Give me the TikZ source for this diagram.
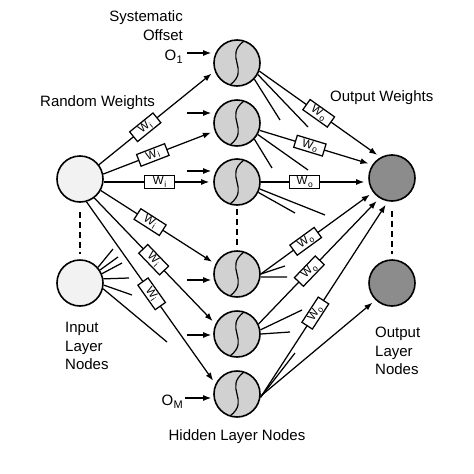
\documentclass[tikz,border=0pt]{standalone}
\usepackage{fontspec}
\setmainfont{Liberation Sans}
\usetikzlibrary{arrows.meta,calc}
\newcommand{\wlab}[1]{W\kern0.6pt\raisebox{-2.2pt}{\fontsize{8.5}{8.5}\selectfont #1}}
\newcommand{\osub}[1]{O\kern0.4pt\raisebox{-3.5pt}{\fontsize{11}{11}\selectfont #1}}
\begin{document}
\begin{tikzpicture}[x=1pt,y=-1pt,
  every node/.style={font=\fontsize{15}{18.5}\selectfont},
  inp/.style={circle,draw,line width=1.6pt,fill=black!5,minimum size=46pt,inner sep=0pt},
  hid/.style={circle,draw,line width=1.6pt,fill=black!18,minimum size=46pt,inner sep=0pt},
  outn/.style={circle,draw,line width=1.6pt,fill=black!45,minimum size=46pt,inner sep=0pt},
  arr/.style={line width=1.25pt,-{Latex[length=8pt,width=6pt]},shorten >=4pt},
  stub/.style={line width=1.25pt},
  dashline/.style={line width=1.2pt,dash pattern=on 6pt off 4pt},
  wbox/.style={draw,fill=white,line width=1.25pt,minimum width=30pt,minimum height=12.5pt,inner sep=0pt,sloped,font=\fontsize{11.5}{11.5}\selectfont},
  lbl/.style={inner sep=0pt}]
\useasboundingbox (0,0) rectangle (474,474);

% nodes
\node[inp] (in1) at (80,179) {};
\node[inp] (in2) at (80,283) {};
\node[hid] (h1) at (237,63) {};
\node[hid] (h2) at (237,123) {};
\node[hid] (h3) at (237,182) {};
\node[hid] (h4) at (237,274) {};
\node[hid] (h5) at (237,334) {};
\node[hid] (h6) at (237,394) {};
\node[outn] (out1) at (392,178) {};
\node[outn] (out2) at (392,283) {};

% sigmoid curves
\foreach \n in {h1,h2,h3,h4,h5,h6}
  \draw[line width=1.2pt] ($(\n)+(7,-22)$) .. controls ($(\n)+(-14,-6)$) and ($(\n)+(14,6)$) .. ($(\n)+(-7,22)$);

% input -> hidden
\draw[arr] (in1.37) -- node[wbox,pos=0.40]{\wlab{i}} (h1.200);
\draw[arr] (in1.12) -- node[wbox,pos=0.445]{\wlab{i}} (h2.200);
\draw[arr] (in1.east |- h3) -- node[wbox,pos=0.51]{\wlab{i}} (h3.west);
\draw[arr] (in1.331) -- node[wbox,pos=0.43]{\wlab{i}} (h4.155);
\draw[arr] (in1.307) -- node[wbox,pos=0.49]{\wlab{i}} (h5.155);
\draw[arr] (in1.286) -- node[wbox,pos=0.505]{\wlab{i}} (h6.155);

% input 2 stubs
\coordinate (a1) at (113,249);
\coordinate (a2) at (118,257);
\coordinate (a3) at (122,263);
\coordinate (a4) at (129,278);
\coordinate (a5) at (132,295);
\coordinate (a6) at (167,342);
\draw[stub] (in2.41) -- (a1);
\draw[stub] (in2.33) -- (a2);
\draw[stub] (in2.23) -- (a3);
\draw[stub] (in2.10) -- (a4);
\draw[stub] (in2.355) -- (a5);
\draw[stub] (in2.346) -- (a6);

% offsets
\coordinate (o1) at (187,53);
\coordinate (o2) at (187,113);
\coordinate (o3) at (187,171);
\coordinate (o4) at (187,280);
\coordinate (o5) at (187,335);
\coordinate (o6) at (185,398);
\draw[arr,shorten >=2pt] (o1) -- (o1 -| h1.west);
\draw[arr,shorten >=2pt] (o2) -- (o2 -| h2.west);
\draw[arr,shorten >=2pt] (o3) -- (o3 -| h3.west);
\draw[arr,shorten >=2pt] (o4) -- (o4 -| h4.west);
\draw[arr,shorten >=2pt] (o5) -- (o5 -| h5.west);
\draw[arr,shorten >=2pt] (o6) -- (o6 -| h6.west);

% hidden -> output
\draw[arr] (h1.340) -- node[wbox,pos=0.49]{\wlab{o}} (out1.119);
\draw[arr] (h2.342) -- node[wbox,pos=0.446]{\wlab{o}} (out1.146);
\draw[arr] (h3.east) -- node[wbox,pos=0.41]{\wlab{o}} (h3.east -| out1.west);
\draw[arr] (h4.east) -- node[wbox,pos=0.40]{\wlab{o}} (out1.217);
\draw[arr] (h5.25) -- node[wbox,pos=0.42]{\wlab{o}} (out1.238);
\draw[arr] (h6.352) -- node[wbox,pos=0.43]{\wlab{o}} (out1.260);
\draw[arr] (h6.355) -- (out2.226);

% hidden stubs
\coordinate (b11) at (308,127);
\coordinate (b12) at (280,120);
\coordinate (b21) at (308,170);
\coordinate (b22) at (272,168);
\coordinate (b31) at (325,215);
\coordinate (b32) at (295,213);
\coordinate (b41) at (285,266);
\coordinate (b42) at (287,277);
\coordinate (b51) at (302,310);
\coordinate (b52) at (290,332);
\coordinate (b61) at (295,353);
\draw[stub] (h1.331) -- (b11);
\draw[stub] (h1.317) -- (b12);
\draw[stub] (h2.331) -- (b21);
\draw[stub] (h2.317) -- (b22);
\draw[stub] (h3.343) -- (b31);
\draw[stub] (h3.334) -- (b32);
\draw[stub] (h4.east) -- (b41);
\draw[stub] (h4.353) -- (b42);
\draw[stub] (h5.10) -- (b51);
\draw[stub] (h5.east) -- (b52);
\draw[stub] (h6.352) -- (b61);

% dashed
\draw[dashline,shorten <=9pt,shorten >=5pt] (in1.south) -- (in2.north);
\draw[dashline,shorten <=3pt,shorten >=3pt] (h3.south) -- (h4.north);
\draw[dashline,shorten <=9pt,shorten >=5pt] (out1.south) -- (out2.north);

% labels
\node[lbl,anchor=north east,align=right] (tsys) at (183,10.7) {Systematic\\Offset};
\node[lbl,anchor=base east] (to1) at (183,60) {\osub{1}};
\node[lbl,anchor=base east] (tom) at (183,405) {\osub{M}};
\node[lbl,anchor=base west] (trw) at (40,106) {Random Weights};
\node[lbl,anchor=base west] (tow) at (330,101) {Output Weights};
\node[lbl,anchor=north west,align=left] (til) at (65,322.2) {Input\\Layer\\Nodes};
\node[lbl,anchor=north west,align=left] (tol) at (375,327.2) {Output\\Layer\\Nodes};
\node[lbl,anchor=base] (thl) at (237,440) {Hidden Layer Nodes};
\end{tikzpicture}
\end{document}
